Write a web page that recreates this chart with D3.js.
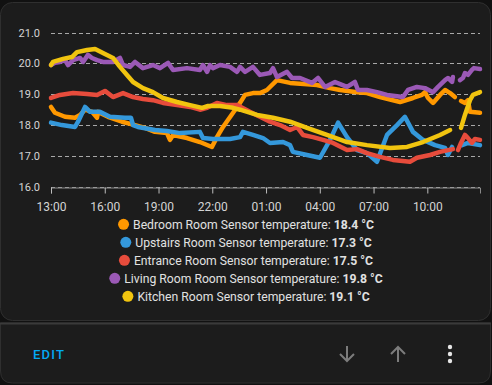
<!DOCTYPE html>
<html>
<head>
<meta charset="utf-8">
<title>Room temperatures</title>
<style>
  body {
    margin: 0;
    background-color: #111111;
    font-family: Roboto, "Noto Sans", sans-serif;
  }
  .grid line {
    stroke: #a8a8a8;
    stroke-width: 1px;
    stroke-dasharray: 4 3;
  }
  .axis text {
    fill: #d4d4d4;
  }
  .legend text {
    fill: #e1e1e1;
    font-size: 12.2px;
  }
  .series {
    fill: none;
    stroke-width: 4.5px;
    stroke-linejoin: round;
    stroke-linecap: round;
  }
</style>
</head>
<body>
<svg width="492" height="385"></svg>

<script src="https://d3js.org/d3.v7.min.js"></script>
<script>

  // hours after 13:00, temperature in °C (null = gap in the history)
  var bedroom = [[0,18.59],[0.22,18.40],[0.78,18.27],[1.34,18.24],[1.62,18.33],[1.90,18.50],[2.29,18.43],[2.57,18.24],[2.62,18.43],[3.18,18.27],[3.96,18.11],[4.69,18.00],[5.25,17.91],[5.80,17.78],[6.47,17.74],[6.64,17.52],[6.81,17.68],[7.59,17.58],[8.31,17.45],[8.98,17.29],[9.26,17.61],[9.60,17.94],[10.16,18.40],[10.55,18.72],[10.83,18.98],[11.27,19.04],[11.66,19.04],[12.05,19.14],[12.61,19.46],[13.34,19.37],[14.29,19.33],[14.84,19.30],[15.57,19.20],[16.13,19.14],[17.08,19.07],[17.63,19.04],[18.36,18.91],[19.48,18.75],[20.20,18.88],[20.70,18.98],[20.87,19.07],[21.04,18.88],[21.32,18.72],[21.71,18.98],[21.99,19.14],[22.27,19.04],[22.54,18.91],[22.7,null],[22.88,18.78],[23.10,18.72],[23.27,18.81],[23.38,18.43],[23.94,18.40]];
  var upstairs = [[0,18.08],[0.61,18.00],[1.34,17.94],[1.51,18.11],[1.90,18.59],[2.18,18.43],[2.73,18.43],[3.29,18.27],[4.13,18.24],[4.46,18.24],[4.58,18.00],[4.85,17.94],[5.80,17.84],[6.47,17.81],[7.20,17.74],[8.31,17.78],[8.48,17.58],[9.04,17.55],[9.99,17.55],[10.55,17.61],[10.71,17.78],[11.27,17.68],[11.83,17.58],[12.22,17.42],[12.95,17.45],[13.34,17.35],[13.50,17.13],[14.29,17.03],[15.01,16.94],[15.57,17.52],[16.02,18.08],[16.52,17.61],[17.08,17.19],[17.63,17.09],[18.19,16.81],[18.75,17.68],[19.31,18.00],[19.75,18.27],[20.20,17.78],[20.76,17.52],[21.43,17.35],[21.99,17.26],[22.15,17.03],[22.38,17.29],[22.7,null],[22.94,17.35],[23.27,17.42],[23.94,17.35]];
  var entrance = [[0,18.88],[0.50,18.98],[1.23,19.04],[2.01,19.01],[2.57,18.98],[3.01,19.11],[3.46,18.91],[4.02,19.04],[4.58,18.91],[5.13,18.85],[5.69,18.81],[6.25,18.72],[7.03,18.65],[7.76,18.59],[8.31,18.50],[8.71,18.56],[9.26,18.72],[9.82,18.65],[10.38,18.65],[11.10,18.43],[11.66,18.27],[12.22,18.11],[12.78,18.00],[13.34,17.84],[13.73,17.94],[14.06,17.68],[14.62,17.61],[15.18,17.52],[15.74,17.42],[16.52,17.19],[17.08,17.22],[17.63,17.09],[18.36,16.97],[19.08,16.87],[20.03,16.81],[20.42,16.94],[21.15,17.03],[21.71,17.13],[22.43,17.22],[22.6,null],[22.71,17.19],[22.88,17.42],[23.10,17.68],[23.27,17.58],[23.49,17.42],[23.66,17.55],[23.94,17.52]];
  var living = [[0,19.95],[0.22,20.02],[0.50,20.05],[0.78,20.11],[0.95,19.95],[1.23,20.11],[1.62,20.18],[1.79,20.05],[2.06,20.28],[2.29,20.18],[2.57,20.11],[2.90,20.05],[3.46,20.05],[3.85,20.18],[4.02,19.95],[4.41,19.89],[4.69,20.05],[5.13,19.85],[5.69,19.95],[6.08,19.85],[6.53,20.02],[6.81,19.79],[7.59,19.85],[8.31,19.79],[8.48,19.95],[8.71,19.73],[8.87,19.95],[9.04,19.85],[9.43,19.95],[9.99,19.89],[10.38,19.73],[10.55,19.89],[10.83,19.73],[11.27,19.89],[11.66,19.63],[12.22,19.69],[12.39,19.85],[12.61,19.56],[13.17,19.73],[13.45,19.53],[13.90,19.53],[14.56,19.37],[14.90,19.53],[15.29,19.24],[15.85,19.40],[16.52,19.24],[16.96,19.40],[17.13,19.14],[17.63,19.14],[18.19,19.07],[18.75,18.98],[19.64,18.91],[19.92,19.14],[20.42,19.24],[20.87,19.20],[21.32,19.07],[21.60,19.24],[21.99,19.46],[22.15,19.53],[22.38,19.40],[22.43,19.56],[22.6,null],[22.82,19.46],[22.99,19.53],[23.10,19.69],[23.27,19.63],[23.49,19.79],[23.60,19.85],[23.94,19.82]];
  var kitchen = [[0,19.95],[0.11,20.05],[0.67,20.15],[1.17,20.21],[1.45,20.37],[2.01,20.44],[2.46,20.47],[2.90,20.34],[3.46,20.18],[3.85,19.89],[4.24,19.63],[4.58,19.40],[5.13,19.20],[5.69,19.07],[6.25,18.88],[7.03,18.75],[7.76,18.65],[8.43,18.56],[8.76,18.62],[9.43,18.62],[10.16,18.56],[10.55,18.50],[11.50,18.33],[12.39,18.24],[13.34,18.11],[14.29,17.91],[15.40,17.68],[16.52,17.45],[17.63,17.35],[18.92,17.26],[19.87,17.29],[20.76,17.45],[21.71,17.68],[22.27,17.84],[22.6,null],[22.88,17.91],[23.10,18.33],[23.38,18.81],[23.55,18.98],[23.94,19.07]];

  var names = ["Bedroom Room Sensor temperature: ", "Upstairs Room Sensor temperature: ", "Entrance Room Sensor temperature: ", "Living Room Room Sensor temperature: ", "Kitchen Room Sensor temperature: "];
  var current = ["18.4 °C", "17.3 °C", "17.5 °C", "19.8 °C", "19.1 °C"];
  var colors = ["#ff9800", "#3498db", "#e74c3c", "#9b59b6", "#f1c40f"];
  var seriesData = [bedroom, upstairs, entrance, living, kitchen];
  var yTicks = [16, 17, 18, 19, 20, 21];
  var xTickHours = [0, 3, 6, 9, 12, 15, 18, 21];   // 13:00 ... 10:00

  var svg = d3.select("svg");

  // cards
  svg.append("rect")
      .attr("x", 0.5).attr("y", 2.5)
      .attr("width", 490).attr("height", 318)
      .attr("rx", 12)
      .attr("fill", "#1c1c1c")
      .attr("stroke", "#2f2f2f");

  svg.append("path")
      .attr("d", "M0.5,323 H490.5 V371 Q490.5,383 478.5,383 H12.5 Q0.5,383 0.5,371 Z")
      .attr("fill", "#1c1c1c")
      .attr("stroke", "#2f2f2f");
  svg.append("line")
      .attr("x1", 0).attr("x2", 491)
      .attr("y1", 323.5).attr("y2", 323.5)
      .attr("stroke", "#3a3a3a")
      .attr("stroke-width", 2);

  // scales
  var start = new Date(2024, 0, 1, 13, 0);
  function toDate(h) { return new Date(start.getTime() + h * 3600e3); }

  var x = d3.scaleTime()
      .domain([start, toDate(23.94)])
      .range([51, 480]);
  var y = d3.scaleLinear()
      .domain([16, 21])
      .range([186.7, 32.7]);

  // grid
  svg.append("g")
      .attr("class", "grid")
      .selectAll("line")
      .data(yTicks)
      .enter().append("line")
      .attr("x1", 51).attr("x2", 480)
      .attr("y1", function(d) { return Math.round(y(d)) + 0.5; })
      .attr("y2", function(d) { return Math.round(y(d)) + 0.5; });

  // y labels
  svg.append("g")
      .attr("class", "axis")
      .selectAll("text")
      .data(yTicks)
      .enter().append("text")
      .attr("x", 40)
      .attr("y", function(d) { return y(d); })
      .attr("dy", "0.35em")
      .attr("text-anchor", "end")
      .attr("font-size", "11px")
      .text(d3.format(".1f"));

  // x axis
  var xAxis = svg.append("g")
      .attr("class", "axis")
      .attr("transform", "translate(0," + (Math.round(y(16)) + 0.5) + ")")
      .call(d3.axisBottom(x)
          .tickValues(xTickHours.map(toDate))
          .tickFormat(d3.timeFormat("%H:%M"))
          .tickSizeOuter(0)
          .tickSize(6)
          .tickPadding(9));
  xAxis.select(".domain").attr("stroke", "#8a8a8a");
  xAxis.selectAll(".tick line").attr("stroke", "#bdbdbd");
  xAxis.selectAll("text").attr("font-size", "12px").attr("font-family", "Roboto");

  // lines
  var line = d3.line()
      .defined(function(d) { return d[1] !== null; })
      .x(function(d) { return x(toDate(d[0])); })
      .y(function(d) { return y(d[1]); });

  svg.append("g")
      .selectAll("path")
      .data(seriesData)
      .enter().append("path")
      .attr("class", "series")
      .attr("stroke", function(d, i) { return colors[i]; })
      .attr("d", line);

  // legend
  var legend = svg.append("g").attr("class", "legend");
  names.forEach(function(name, i) {
    var row = legend.append("g");
    var cy = 224.3 + i * 18;
    var txt = row.append("text")
        .attr("x", 15)
        .attr("y", cy)
        .attr("dy", "0.35em");
    txt.append("tspan").text(name);
    txt.append("tspan").attr("font-weight", "bold").text(current[i]);
    row.append("circle")
        .attr("cx", 5.5)
        .attr("cy", cy)
        .attr("r", 5.5)
        .attr("fill", colors[i]);
    var w = 15 + txt.node().getComputedTextLength();
    row.attr("transform", "translate(" + (246 - w / 2) + ",0)");
  });

  // footer
  svg.append("text")
      .attr("x", 33)
      .attr("y", 354.5)
      .attr("dy", "0.35em")
      .attr("fill", "#03a9f4")
      .attr("font-size", "13px")
      .attr("font-weight", 500)
      .attr("letter-spacing", "1.2px")
      .text("EDIT");

  var icons = svg.append("g")
      .attr("fill", "none")
      .attr("stroke", "#7c7c7c")
      .attr("stroke-width", 2);
  icons.append("path").attr("d", "M347,346 V361 M340,354 L347,361 L354,354");
  icons.append("path").attr("d", "M398,362 V347 M391,354 L398,347 L405,354");

  svg.append("g")
      .selectAll("circle")
      .data([347, 354, 361])
      .enter().append("circle")
      .attr("cx", 450)
      .attr("cy", function(d) { return d; })
      .attr("r", 2.2)
      .attr("fill", "#e6e6e6");

</script>
</body>
</html>
